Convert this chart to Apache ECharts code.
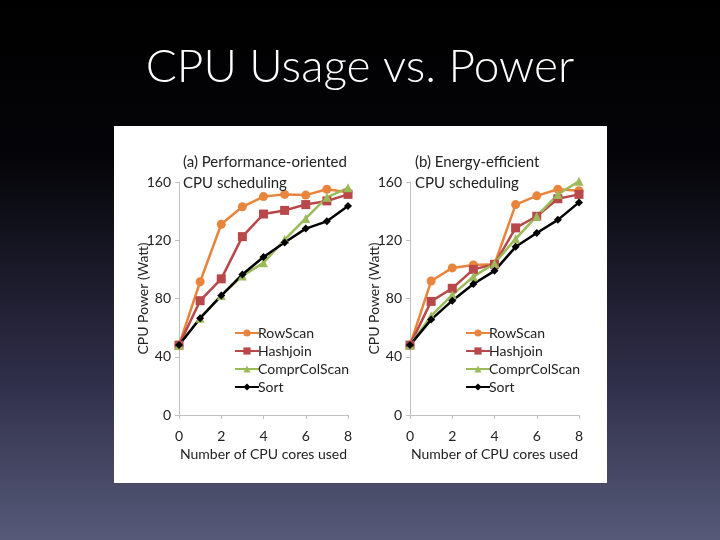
<!DOCTYPE html>
<html>
<head>
<meta charset="utf-8">
<script src="https://cdn.jsdelivr.net/npm/echarts@6/dist/echarts.min.js"></script>
<style>
  html, body { margin: 0; padding: 0; }
  #main { width: 720px; height: 540px; }
</style>
</head>
<body>
<div id="main"></div>
<script>
// cores used on the x axis
var cores = [0, 1, 2, 3, 4, 5, 6, 7, 8];
var seriesNames = ['RowScan', 'Hashjoin', 'ComprColScan', 'Sort'];

// (a) performance-oriented scheduling, watts
var perfRowScan = [48, 91.5, 131, 143, 150, 151.5, 151, 155, 153];
var perfHashjoin = [48, 78.5, 93.5, 122.5, 138, 140.5, 144.5, 147, 151.5];
var perfCompr = [48, 66.5, 82, 95.5, 104.5, 120.5, 135, 149.5, 156];
var perfSort = [48, 66.5, 82, 96.5, 108.5, 118.5, 128, 133, 143.5];

// (b) energy-efficient scheduling, watts
var effRowScan = [48, 92, 101, 103, 103.5, 144.5, 150.5, 155, 154];
var effHashjoin = [48, 78, 87, 100, 103.5, 128.5, 136.5, 148.5, 151.5];
var effCompr = [48, 68, 82.5, 95, 104, 121, 136.5, 151.5, 160.5];
var effSort = [48, 65.5, 78.5, 90, 99, 115.5, 125, 134, 146];

var colors = ['#e8843c', '#b9484a', '#9bbb59', '#000000'];
var symbols = ['circle', 'rect', 'triangle', 'diamond'];
var symbolSizes = [9, 9, 9, 8];
var font = 'Lato';

function pairs(vals) {
    return cores.map(function (c, i) { return [c, vals[i]]; });
}

function makeSeries(idx, lists) {
    return lists.map(function (vals, i) {
        return {
            name: seriesNames[i],
            type: 'line',
            xAxisIndex: idx,
            yAxisIndex: idx,
            data: pairs(vals),
            symbol: symbols[i],
            symbolSize: symbolSizes[i],
            clip: false,
            lineStyle: {color: colors[i], width: 2.5},
            itemStyle: {color: colors[i]}
        };
    });
}

var axisGray = '#c0c0c0';

function xAxis(idx) {
    return {
        type: 'value', gridIndex: idx, min: 0, max: 8, interval: 2,
        name: 'Number of CPU cores used', nameLocation: 'middle', nameGap: 32,
        nameTextStyle: {fontFamily: font, fontSize: 14, color: '#222'},
        axisLine: {show: true, lineStyle: {color: axisGray}},
        axisTick: {show: true, length: 4, inside: false, lineStyle: {color: axisGray}},
        axisLabel: {fontFamily: font, fontSize: 14, color: '#222', margin: 14},
        splitLine: {show: false}
    };
}

function yAxis(idx) {
    return {
        type: 'value', gridIndex: idx, min: 0, max: 160, interval: 40,
        name: 'CPU Power (Watt)', nameLocation: 'middle', nameGap: 29,
        nameMoveOverlap: false,
        nameTextStyle: {fontFamily: font, fontSize: 14, color: '#222'},
        axisLine: {show: true, lineStyle: {color: axisGray}},
        axisTick: {show: true, length: 4, lineStyle: {color: axisGray}},
        axisLabel: {fontFamily: font, fontSize: 14, color: '#222', margin: 8},
        splitLine: {show: false}
    };
}

function legend(left) {
    return {
        data: seriesNames, orient: 'vertical', left: left, top: 321,
        itemWidth: 24, itemHeight: 9, itemGap: 4,
        textStyle: {fontFamily: font, fontSize: 14, color: '#222', padding: [0, 0, 0, -6]}
    };
}

var myChart = echarts.init(document.getElementById('main'));
var option = {
    animation: false,
    backgroundColor: {
        type: 'linear', x: 0, y: 0, x2: 0, y2: 1,
        colorStops: [
            {offset: 0, color: '#000000'},
            {offset: 0.3, color: '#050509'},
            {offset: 0.7, color: '#2f2e49'},
            {offset: 1, color: '#565a78'}
        ]
    },
    graphic: [
        {type: 'rect', left: 114, top: 126, shape: {width: 493, height: 357}, style: {fill: '#ffffff'}, z: -10},
        {type: 'text', left: 'center', top: 44, style: {text: 'CPU Usage vs. Power', fill: '#ffffff', font: '300 46px Lato'}}
    ],
    title: [
        {text: '(a) Performance-oriented\nCPU scheduling', left: 178, top: 147,
            textStyle: {fontFamily: font, fontSize: 15, fontWeight: 'normal', color: '#222', lineHeight: 21}},
        {text: '(b) Energy-efficient\nCPU scheduling', left: 410, top: 147,
            textStyle: {fontFamily: font, fontSize: 15, fontWeight: 'normal', color: '#222', lineHeight: 21}}
    ],
    legend: [legend(229), legend(460)],
    grid: [
        {left: 179, top: 182, width: 169, height: 233},
        {left: 410, top: 182, width: 169, height: 233}
    ],
    xAxis: [xAxis(0), xAxis(1)],
    yAxis: [yAxis(0), yAxis(1)],
    series: makeSeries(0, [perfRowScan, perfHashjoin, perfCompr, perfSort])
        .concat(makeSeries(1, [effRowScan, effHashjoin, effCompr, effSort]))
};
myChart.setOption(option);
</script>
</body>
</html>
